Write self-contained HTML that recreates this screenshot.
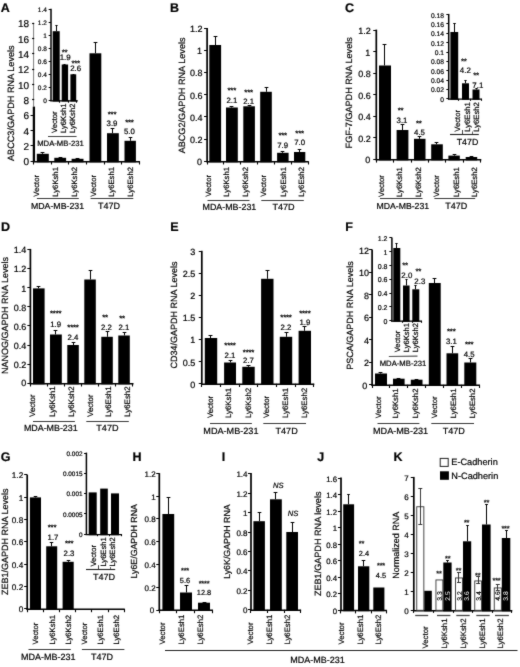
<!DOCTYPE html>
<html lang="en">
<head>
<meta charset="utf-8">
<title>Figure</title>
<style>
html,body{margin:0;padding:0;background:#fff;}
body{width:520px;height:667px;overflow:hidden;}
svg{display:block;}
svg text{font-family:"Liberation Sans", sans-serif;text-rendering:geometricPrecision;stroke:#000;stroke-width:0.2px;}
</style>
</head>
<body>
<svg width="520" height="667" viewBox="0 0 520 667">
<defs><filter id="soft" x="0" y="0" width="520" height="667" filterUnits="userSpaceOnUse" color-interpolation-filters="sRGB"><feConvolveMatrix order="3" kernelMatrix="0.02 0.07 0.02 0.07 0.64 0.07 0.02 0.07 0.02" edgeMode="duplicate" preserveAlpha="true"/></filter></defs>
<rect x="0" y="0" width="520" height="667" fill="#fff"/>
<g filter="url(#soft)">
<rect x="0" y="0" width="520" height="667" fill="#fff"/>
<text x="0.8" y="11.88" font-size="12.5" font-weight="bold">A</text>
<line x1="33.6" y1="22.8" x2="33.6" y2="161.9" stroke="#000" stroke-width="1.7"/>
<line x1="30.55" y1="161.5" x2="33.6" y2="161.5" stroke="#000" stroke-width="1"/>
<text x="29.15" y="165.48" font-size="10" text-anchor="end">0</text>
<line x1="30.55" y1="145.5" x2="33.6" y2="145.5" stroke="#000" stroke-width="1"/>
<text x="29.15" y="150.14" font-size="10" text-anchor="end">2</text>
<line x1="30.55" y1="130.5" x2="33.6" y2="130.5" stroke="#000" stroke-width="1"/>
<text x="29.15" y="134.8" font-size="10" text-anchor="end">4</text>
<line x1="30.55" y1="115.5" x2="33.6" y2="115.5" stroke="#000" stroke-width="1"/>
<text x="29.15" y="119.46" font-size="10" text-anchor="end">6</text>
<line x1="30.55" y1="99.5" x2="33.6" y2="99.5" stroke="#000" stroke-width="1"/>
<text x="29.15" y="104.12" font-size="10" text-anchor="end">8</text>
<line x1="30.55" y1="84.5" x2="33.6" y2="84.5" stroke="#000" stroke-width="1"/>
<text x="29.15" y="88.78" font-size="10" text-anchor="end">10</text>
<line x1="30.55" y1="69.5" x2="33.6" y2="69.5" stroke="#000" stroke-width="1"/>
<text x="29.15" y="73.44" font-size="10" text-anchor="end">12</text>
<line x1="30.55" y1="53.5" x2="33.6" y2="53.5" stroke="#000" stroke-width="1"/>
<text x="29.15" y="58.1" font-size="10" text-anchor="end">14</text>
<line x1="30.55" y1="38.5" x2="33.6" y2="38.5" stroke="#000" stroke-width="1"/>
<text x="29.15" y="42.76" font-size="10" text-anchor="end">16</text>
<line x1="30.55" y1="23.5" x2="33.6" y2="23.5" stroke="#000" stroke-width="1"/>
<text x="29.15" y="27.42" font-size="10" text-anchor="end">18</text>
<line x1="32.8" y1="161.65" x2="140" y2="161.65" stroke="#000" stroke-width="1.5"/>
<line x1="33.5" y1="161.3" x2="33.5" y2="164.5" stroke="#000" stroke-width="1.1"/>
<line x1="51.5" y1="161.3" x2="51.5" y2="164.5" stroke="#000" stroke-width="1.1"/>
<line x1="68.5" y1="161.3" x2="68.5" y2="164.5" stroke="#000" stroke-width="1.1"/>
<line x1="86.5" y1="161.3" x2="86.5" y2="164.5" stroke="#000" stroke-width="1.1"/>
<line x1="104.5" y1="161.3" x2="104.5" y2="164.5" stroke="#000" stroke-width="1.1"/>
<line x1="121.5" y1="161.3" x2="121.5" y2="164.5" stroke="#000" stroke-width="1.1"/>
<line x1="139.5" y1="161.3" x2="139.5" y2="164.5" stroke="#000" stroke-width="1.1"/>
<line x1="42.5" y1="152.5" x2="42.5" y2="153.8" stroke="#000" stroke-width="1"/>
<line x1="40.58" y1="152.5" x2="44.42" y2="152.5" stroke="#000" stroke-width="1"/>
<rect x="36.8" y="153.8" width="12" height="8.5" fill="#000"/>
<line x1="60.5" y1="157.5" x2="60.5" y2="157.8" stroke="#000" stroke-width="1"/>
<line x1="58.61" y1="157.5" x2="62.39" y2="157.5" stroke="#000" stroke-width="1"/>
<rect x="54.3" y="157.8" width="11.8" height="4.5" fill="#000"/>
<line x1="77.5" y1="158.5" x2="77.5" y2="158.8" stroke="#000" stroke-width="1"/>
<line x1="75.6" y1="158.5" x2="79.4" y2="158.5" stroke="#000" stroke-width="1"/>
<rect x="71.6" y="158.8" width="11.9" height="3.5" fill="#000"/>
<line x1="95.5" y1="42.5" x2="95.5" y2="53.3" stroke="#000" stroke-width="1"/>
<line x1="93.61" y1="42.5" x2="97.39" y2="42.5" stroke="#000" stroke-width="1"/>
<rect x="89.5" y="53.3" width="11.8" height="109" fill="#000"/>
<line x1="112.5" y1="128.5" x2="112.5" y2="133.2" stroke="#000" stroke-width="1"/>
<line x1="110.61" y1="128.5" x2="114.39" y2="128.5" stroke="#000" stroke-width="1"/>
<rect x="107" y="133.2" width="11.8" height="29.1" fill="#000"/>
<line x1="130.5" y1="137.5" x2="130.5" y2="140.8" stroke="#000" stroke-width="1"/>
<line x1="128.68" y1="137.5" x2="132.32" y2="137.5" stroke="#000" stroke-width="1"/>
<rect x="124.5" y="140.8" width="11.4" height="21.5" fill="#000"/>
<text x="39.26" y="196.7" font-size="7.7" transform="rotate(-90 39.26 196.7)">Vector</text>
<text x="57.56" y="196.7" font-size="7.7" transform="rotate(-90 57.56 196.7)">Ly6Ksh1</text>
<text x="76.86" y="196.7" font-size="7.7" transform="rotate(-90 76.86 196.7)">Ly6Ksh2</text>
<text x="95.66" y="196.7" font-size="7.7" transform="rotate(-90 95.66 196.7)">Vector</text>
<text x="114.36" y="196.7" font-size="7.7" transform="rotate(-90 114.36 196.7)">Ly6Esh1</text>
<text x="133.16" y="196.7" font-size="7.7" transform="rotate(-90 133.16 196.7)">Ly6Esh2</text>
<text x="14.27" y="103.2" font-size="9.14" text-anchor="middle" transform="rotate(-90 14.27 103.2)">ABCC3/GAPDH RNA Levels</text>
<line x1="36.9" y1="198.5" x2="78.8" y2="198.5" stroke="#222" stroke-width="0.9"/>
<line x1="90.6" y1="198.5" x2="133.3" y2="198.5" stroke="#222" stroke-width="0.9"/>
<text x="57.5" y="208.83" font-size="8.75" text-anchor="middle">MDA-MB-231</text>
<text x="109" y="208.92" font-size="9" text-anchor="middle">T47D</text>
<text x="112" y="116.7" font-size="7.8" text-anchor="middle" letter-spacing="-0.2">***</text>
<text x="112" y="126.19" font-size="7.8" text-anchor="middle">3.9</text>
<text x="129.4" y="124.7" font-size="7.8" text-anchor="middle" letter-spacing="-0.2">***</text>
<text x="129.4" y="134.39" font-size="7.8" text-anchor="middle">5.0</text>
<rect x="30.2" y="21.5" width="4.7" height="85.2" fill="#fff"/>
<line x1="33.5" y1="22.8" x2="33.5" y2="106.7" stroke="#888" stroke-width="1"/>
<line x1="32.1" y1="99.5" x2="34.2" y2="99.5" stroke="#000" stroke-width="1.2"/>
<line x1="32.1" y1="84.5" x2="34.2" y2="84.5" stroke="#000" stroke-width="1.2"/>
<line x1="32.1" y1="69.5" x2="34.2" y2="69.5" stroke="#000" stroke-width="1.2"/>
<line x1="32.1" y1="53.5" x2="34.2" y2="53.5" stroke="#000" stroke-width="1.2"/>
<line x1="32.1" y1="38.5" x2="34.2" y2="38.5" stroke="#000" stroke-width="1.2"/>
<line x1="32.1" y1="23.5" x2="34.2" y2="23.5" stroke="#000" stroke-width="1.2"/>
<line x1="34.1" y1="106.7" x2="34.1" y2="161.3" stroke="#000" stroke-width="1.9"/>
<line x1="51" y1="8.8" x2="51" y2="101.1" stroke="#000" stroke-width="1.5"/>
<line x1="48.65" y1="100.5" x2="51" y2="100.5" stroke="#000" stroke-width="1"/>
<text x="46.85" y="103.43" font-size="6.5" text-anchor="end">0</text>
<line x1="48.65" y1="87.5" x2="51" y2="87.5" stroke="#000" stroke-width="1"/>
<text x="46.85" y="90.43" font-size="6.5" text-anchor="end">0.2</text>
<line x1="48.65" y1="74.5" x2="51" y2="74.5" stroke="#000" stroke-width="1"/>
<text x="46.85" y="77.43" font-size="6.5" text-anchor="end">0.4</text>
<line x1="48.65" y1="61.5" x2="51" y2="61.5" stroke="#000" stroke-width="1"/>
<text x="46.85" y="64.43" font-size="6.5" text-anchor="end">0.6</text>
<line x1="48.65" y1="48.5" x2="51" y2="48.5" stroke="#000" stroke-width="1"/>
<text x="46.85" y="51.43" font-size="6.5" text-anchor="end">0.8</text>
<line x1="48.65" y1="35.5" x2="51" y2="35.5" stroke="#000" stroke-width="1"/>
<text x="46.85" y="38.43" font-size="6.5" text-anchor="end">1</text>
<line x1="48.65" y1="22.5" x2="51" y2="22.5" stroke="#000" stroke-width="1"/>
<text x="46.85" y="25.43" font-size="6.5" text-anchor="end">1.2</text>
<line x1="48.65" y1="9.5" x2="51" y2="9.5" stroke="#000" stroke-width="1"/>
<text x="46.85" y="12.43" font-size="6.5" text-anchor="end">1.4</text>
<line x1="50.2" y1="100.85" x2="77.8" y2="100.85" stroke="#000" stroke-width="1.3"/>
<line x1="59.5" y1="100.5" x2="59.5" y2="102.7" stroke="#000" stroke-width="1.1"/>
<line x1="68.5" y1="100.5" x2="68.5" y2="102.7" stroke="#000" stroke-width="1.1"/>
<line x1="76.5" y1="100.5" x2="76.5" y2="102.7" stroke="#000" stroke-width="1.1"/>
<line x1="56.5" y1="25.5" x2="56.5" y2="31.2" stroke="#000" stroke-width="1"/>
<line x1="55.38" y1="25.5" x2="57.62" y2="25.5" stroke="#000" stroke-width="1"/>
<rect x="52.7" y="31.2" width="7" height="70.3" fill="#000"/>
<line x1="64.5" y1="64.5" x2="64.5" y2="64.5" stroke="#000" stroke-width="1"/>
<line x1="63.48" y1="64.5" x2="65.52" y2="64.5" stroke="#000" stroke-width="1"/>
<rect x="61.7" y="64.5" width="6.4" height="37" fill="#000"/>
<line x1="73.5" y1="74.5" x2="73.5" y2="74.3" stroke="#000" stroke-width="1"/>
<line x1="72.57" y1="74.5" x2="74.43" y2="74.5" stroke="#000" stroke-width="1"/>
<rect x="70.4" y="74.3" width="5.8" height="27.2" fill="#000"/>
<text x="64.6" y="55.15" font-size="7.9" text-anchor="middle" letter-spacing="-0.2">**</text>
<text x="65.2" y="60.13" font-size="7.9" text-anchor="middle">1.9</text>
<text x="75.7" y="65.55" font-size="7.9" text-anchor="middle" letter-spacing="-0.2">***</text>
<text x="75.7" y="70.83" font-size="7.9" text-anchor="middle">2.6</text>
<text x="57.42" y="132.9" font-size="7.6" transform="rotate(-90 57.42 132.9)">Vector</text>
<text x="66.22" y="132.9" font-size="7.6" transform="rotate(-90 66.22 132.9)">Ly6Ksh1</text>
<text x="75.02" y="132.9" font-size="7.6" transform="rotate(-90 75.02 132.9)">Ly6Ksh2</text>
<line x1="48" y1="136.5" x2="76.6" y2="136.5" stroke="#444" stroke-width="1"/>
<text x="60.5" y="145.96" font-size="7.7" text-anchor="middle">MDA-MB-231</text>
<text x="170" y="11.77" font-size="12.5" font-weight="bold">B</text>
<line x1="207.1" y1="27.9" x2="207.1" y2="161.9" stroke="#000" stroke-width="1.7"/>
<line x1="204.05" y1="161.5" x2="207.1" y2="161.5" stroke="#000" stroke-width="1"/>
<text x="202" y="165.12" font-size="9" text-anchor="end">0</text>
<line x1="204.05" y1="139.5" x2="207.1" y2="139.5" stroke="#000" stroke-width="1"/>
<text x="202.6" y="142.96" font-size="9" text-anchor="end">0.2</text>
<line x1="204.05" y1="116.5" x2="207.1" y2="116.5" stroke="#000" stroke-width="1"/>
<text x="202.6" y="120.8" font-size="9" text-anchor="end">0.4</text>
<line x1="204.05" y1="94.5" x2="207.1" y2="94.5" stroke="#000" stroke-width="1"/>
<text x="202.6" y="98.64" font-size="9" text-anchor="end">0.6</text>
<line x1="204.05" y1="72.5" x2="207.1" y2="72.5" stroke="#000" stroke-width="1"/>
<text x="202.6" y="76.48" font-size="9" text-anchor="end">0.8</text>
<line x1="204.05" y1="50.5" x2="207.1" y2="50.5" stroke="#000" stroke-width="1"/>
<text x="202" y="54.32" font-size="9" text-anchor="end">1</text>
<line x1="204.05" y1="28.5" x2="207.1" y2="28.5" stroke="#000" stroke-width="1"/>
<text x="202.6" y="32.16" font-size="9" text-anchor="end">1.2</text>
<line x1="206.3" y1="161.65" x2="308.5" y2="161.65" stroke="#000" stroke-width="1.5"/>
<line x1="207.5" y1="161.3" x2="207.5" y2="164.5" stroke="#000" stroke-width="1.1"/>
<line x1="223.5" y1="161.3" x2="223.5" y2="164.5" stroke="#000" stroke-width="1.1"/>
<line x1="240.5" y1="161.3" x2="240.5" y2="164.5" stroke="#000" stroke-width="1.1"/>
<line x1="257.5" y1="161.3" x2="257.5" y2="164.5" stroke="#000" stroke-width="1.1"/>
<line x1="274.5" y1="161.3" x2="274.5" y2="164.5" stroke="#000" stroke-width="1.1"/>
<line x1="291.5" y1="161.3" x2="291.5" y2="164.5" stroke="#000" stroke-width="1.1"/>
<line x1="308.5" y1="161.3" x2="308.5" y2="164.5" stroke="#000" stroke-width="1.1"/>
<line x1="215.5" y1="36.5" x2="215.5" y2="45" stroke="#000" stroke-width="1"/>
<line x1="213.61" y1="36.5" x2="217.39" y2="36.5" stroke="#000" stroke-width="1"/>
<rect x="209.3" y="45" width="11.8" height="117.3" fill="#000"/>
<line x1="231.5" y1="106.5" x2="231.5" y2="107.5" stroke="#000" stroke-width="1"/>
<line x1="229.61" y1="106.5" x2="233.39" y2="106.5" stroke="#000" stroke-width="1"/>
<rect x="226" y="107.5" width="11.8" height="54.8" fill="#000"/>
<line x1="249.5" y1="105.5" x2="249.5" y2="106.3" stroke="#000" stroke-width="1"/>
<line x1="247.64" y1="105.5" x2="251.36" y2="105.5" stroke="#000" stroke-width="1"/>
<rect x="243.3" y="106.3" width="11.6" height="56" fill="#000"/>
<line x1="266.5" y1="87.5" x2="266.5" y2="91.8" stroke="#000" stroke-width="1"/>
<line x1="264.64" y1="87.5" x2="268.36" y2="87.5" stroke="#000" stroke-width="1"/>
<rect x="260.2" y="91.8" width="11.6" height="70.5" fill="#000"/>
<line x1="282.5" y1="151.5" x2="282.5" y2="152.8" stroke="#000" stroke-width="1"/>
<line x1="280.66" y1="151.5" x2="284.34" y2="151.5" stroke="#000" stroke-width="1"/>
<rect x="277.1" y="152.8" width="11.5" height="9.5" fill="#000"/>
<line x1="299.5" y1="149.5" x2="299.5" y2="152" stroke="#000" stroke-width="1"/>
<line x1="297.69" y1="149.5" x2="301.31" y2="149.5" stroke="#000" stroke-width="1"/>
<rect x="294" y="152" width="11.3" height="10.3" fill="#000"/>
<text x="210.56" y="196.7" font-size="7.7" transform="rotate(-90 210.56 196.7)">Vector</text>
<text x="229.16" y="196.7" font-size="7.7" transform="rotate(-90 229.16 196.7)">Ly6Ksh1</text>
<text x="248.46" y="196.7" font-size="7.7" transform="rotate(-90 248.46 196.7)">Ly6Ksh2</text>
<text x="266.36" y="196.7" font-size="7.7" transform="rotate(-90 266.36 196.7)">Vector</text>
<text x="285.76" y="196.7" font-size="7.7" transform="rotate(-90 285.76 196.7)">Ly6Esh1</text>
<text x="304.06" y="196.7" font-size="7.7" transform="rotate(-90 304.06 196.7)">Ly6Esh2</text>
<text x="185.16" y="95.4" font-size="9.12" text-anchor="middle" transform="rotate(-90 185.16 95.4)">ABCG2/GAPDH RNA Levels</text>
<line x1="207.5" y1="200.5" x2="249.5" y2="200.5" stroke="#222" stroke-width="0.9"/>
<line x1="261.3" y1="200.5" x2="303.8" y2="200.5" stroke="#222" stroke-width="0.9"/>
<text x="229.4" y="209.79" font-size="8.9" text-anchor="middle">MDA-MB-231</text>
<text x="283.5" y="209.86" font-size="9.1" text-anchor="middle">T47D</text>
<text x="231.8" y="92.9" font-size="7.8" text-anchor="middle" letter-spacing="-0.2">***</text>
<text x="231.8" y="102.69" font-size="7.8" text-anchor="middle">2.1</text>
<text x="248.6" y="94.5" font-size="7.8" text-anchor="middle" letter-spacing="-0.2">***</text>
<text x="248.6" y="104.09" font-size="7.8" text-anchor="middle">2.1</text>
<text x="282.7" y="137.7" font-size="7.8" text-anchor="middle" letter-spacing="-0.2">***</text>
<text x="282.7" y="148.19" font-size="7.8" text-anchor="middle">7.9</text>
<text x="299.6" y="135.9" font-size="7.8" text-anchor="middle" letter-spacing="-0.2">***</text>
<text x="299.6" y="145.29" font-size="7.8" text-anchor="middle">7.0</text>
<text x="345" y="12.37" font-size="12.5" font-weight="bold">C</text>
<line x1="376.3" y1="29.6" x2="376.3" y2="160" stroke="#000" stroke-width="1.7"/>
<line x1="373.25" y1="159.5" x2="376.3" y2="159.5" stroke="#000" stroke-width="1"/>
<text x="370.25" y="163.22" font-size="9" text-anchor="end">0</text>
<line x1="373.25" y1="137.5" x2="376.3" y2="137.5" stroke="#000" stroke-width="1"/>
<text x="370.65" y="141.68" font-size="9" text-anchor="end">0.2</text>
<line x1="373.25" y1="116.5" x2="376.3" y2="116.5" stroke="#000" stroke-width="1"/>
<text x="370.65" y="120.14" font-size="9" text-anchor="end">0.4</text>
<line x1="373.25" y1="94.5" x2="376.3" y2="94.5" stroke="#000" stroke-width="1"/>
<text x="370.65" y="98.6" font-size="9" text-anchor="end">0.6</text>
<line x1="373.25" y1="73.5" x2="376.3" y2="73.5" stroke="#000" stroke-width="1"/>
<text x="370.65" y="77.06" font-size="9" text-anchor="end">0.8</text>
<line x1="373.25" y1="51.5" x2="376.3" y2="51.5" stroke="#000" stroke-width="1"/>
<text x="370.25" y="55.52" font-size="9" text-anchor="end">1</text>
<line x1="373.25" y1="30.5" x2="376.3" y2="30.5" stroke="#000" stroke-width="1"/>
<text x="370.65" y="33.98" font-size="9" text-anchor="end">1.2</text>
<line x1="375.5" y1="159.75" x2="481.3" y2="159.75" stroke="#000" stroke-width="1.5"/>
<line x1="376.5" y1="159.4" x2="376.5" y2="162.6" stroke="#000" stroke-width="1.1"/>
<line x1="393.5" y1="159.4" x2="393.5" y2="162.6" stroke="#000" stroke-width="1.1"/>
<line x1="411.5" y1="159.4" x2="411.5" y2="162.6" stroke="#000" stroke-width="1.1"/>
<line x1="428.5" y1="159.4" x2="428.5" y2="162.6" stroke="#000" stroke-width="1.1"/>
<line x1="445.5" y1="159.4" x2="445.5" y2="162.6" stroke="#000" stroke-width="1.1"/>
<line x1="463.5" y1="159.4" x2="463.5" y2="162.6" stroke="#000" stroke-width="1.1"/>
<line x1="480.5" y1="159.4" x2="480.5" y2="162.6" stroke="#000" stroke-width="1.1"/>
<line x1="384.5" y1="44.5" x2="384.5" y2="65.5" stroke="#000" stroke-width="1"/>
<line x1="382.58" y1="44.5" x2="386.42" y2="44.5" stroke="#000" stroke-width="1"/>
<rect x="379" y="65.5" width="12" height="94.9" fill="#000"/>
<line x1="402.5" y1="124.5" x2="402.5" y2="130" stroke="#000" stroke-width="1"/>
<line x1="400.61" y1="124.5" x2="404.39" y2="124.5" stroke="#000" stroke-width="1"/>
<rect x="396.6" y="130" width="11.8" height="30.4" fill="#000"/>
<line x1="419.5" y1="136.5" x2="419.5" y2="138.8" stroke="#000" stroke-width="1"/>
<line x1="417.66" y1="136.5" x2="421.34" y2="136.5" stroke="#000" stroke-width="1"/>
<rect x="414" y="138.8" width="11.5" height="21.6" fill="#000"/>
<line x1="436.5" y1="142.5" x2="436.5" y2="144.3" stroke="#000" stroke-width="1"/>
<line x1="434.64" y1="142.5" x2="438.36" y2="142.5" stroke="#000" stroke-width="1"/>
<rect x="431.2" y="144.3" width="11.6" height="16.1" fill="#000"/>
<line x1="454.5" y1="154.5" x2="454.5" y2="155.6" stroke="#000" stroke-width="1"/>
<line x1="452.68" y1="154.5" x2="456.32" y2="154.5" stroke="#000" stroke-width="1"/>
<rect x="448.4" y="155.6" width="11.4" height="4.8" fill="#000"/>
<line x1="471.5" y1="156.5" x2="471.5" y2="157" stroke="#000" stroke-width="1"/>
<line x1="469.66" y1="156.5" x2="473.34" y2="156.5" stroke="#000" stroke-width="1"/>
<rect x="465.7" y="157" width="11.5" height="3.4" fill="#000"/>
<text x="383.86" y="196.9" font-size="7.7" transform="rotate(-90 383.86 196.9)">Vector</text>
<text x="402.46" y="196.9" font-size="7.7" transform="rotate(-90 402.46 196.9)">Ly6Ksh1</text>
<text x="420.76" y="196.9" font-size="7.7" transform="rotate(-90 420.76 196.9)">Ly6Ksh2</text>
<text x="439.26" y="196.9" font-size="7.7" transform="rotate(-90 439.26 196.9)">Vector</text>
<text x="458.66" y="196.9" font-size="7.7" transform="rotate(-90 458.66 196.9)">Ly6Esh1</text>
<text x="477.06" y="196.9" font-size="7.7" transform="rotate(-90 477.06 196.9)">Ly6Esh2</text>
<text x="351.76" y="92.8" font-size="9.1" text-anchor="middle" transform="rotate(-90 351.76 92.8)">FGF-7/GAPDH RNA Levels</text>
<line x1="380" y1="198.5" x2="422.5" y2="198.5" stroke="#222" stroke-width="0.9"/>
<line x1="434.4" y1="198.5" x2="475.2" y2="198.5" stroke="#222" stroke-width="0.9"/>
<text x="402.8" y="209.11" font-size="8.7" text-anchor="middle">MDA-MB-231</text>
<text x="456.2" y="209.22" font-size="9" text-anchor="middle">T47D</text>
<text x="400.6" y="112.5" font-size="7.8" text-anchor="middle" letter-spacing="-0.2">**</text>
<text x="402" y="122.59" font-size="7.8" text-anchor="middle">3.1</text>
<text x="418.8" y="125.7" font-size="7.8" text-anchor="middle" letter-spacing="-0.2">**</text>
<text x="419.5" y="135.09" font-size="7.8" text-anchor="middle">4.5</text>
<line x1="448.7" y1="13.9" x2="448.7" y2="99.4" stroke="#000" stroke-width="1.5"/>
<line x1="446.35" y1="98.5" x2="448.7" y2="98.5" stroke="#000" stroke-width="1"/>
<text x="444.05" y="101.8" font-size="6.7" text-anchor="end">0</text>
<line x1="446.35" y1="89.5" x2="448.7" y2="89.5" stroke="#000" stroke-width="1"/>
<text x="444.05" y="92.44" font-size="6.7" text-anchor="end">0.02</text>
<line x1="446.35" y1="80.5" x2="448.7" y2="80.5" stroke="#000" stroke-width="1"/>
<text x="444.05" y="83.08" font-size="6.7" text-anchor="end">0.04</text>
<line x1="446.35" y1="70.5" x2="448.7" y2="70.5" stroke="#000" stroke-width="1"/>
<text x="444.05" y="73.72" font-size="6.7" text-anchor="end">0.06</text>
<line x1="446.35" y1="61.5" x2="448.7" y2="61.5" stroke="#000" stroke-width="1"/>
<text x="444.05" y="64.36" font-size="6.7" text-anchor="end">0.08</text>
<line x1="446.35" y1="52.5" x2="448.7" y2="52.5" stroke="#000" stroke-width="1"/>
<text x="444.05" y="55" font-size="6.7" text-anchor="end">0.1</text>
<line x1="446.35" y1="42.5" x2="448.7" y2="42.5" stroke="#000" stroke-width="1"/>
<text x="444.05" y="45.64" font-size="6.7" text-anchor="end">0.12</text>
<line x1="446.35" y1="33.5" x2="448.7" y2="33.5" stroke="#000" stroke-width="1"/>
<text x="444.05" y="36.28" font-size="6.7" text-anchor="end">0.14</text>
<line x1="446.35" y1="23.5" x2="448.7" y2="23.5" stroke="#000" stroke-width="1"/>
<text x="444.05" y="26.92" font-size="6.7" text-anchor="end">0.16</text>
<line x1="446.35" y1="14.5" x2="448.7" y2="14.5" stroke="#000" stroke-width="1"/>
<text x="444.05" y="17.56" font-size="6.7" text-anchor="end">0.18</text>
<line x1="447.9" y1="99.15" x2="481.9" y2="99.15" stroke="#000" stroke-width="1.3"/>
<line x1="458.5" y1="98.8" x2="458.5" y2="100.8" stroke="#000" stroke-width="1.1"/>
<line x1="470.5" y1="98.8" x2="470.5" y2="100.8" stroke="#000" stroke-width="1.1"/>
<line x1="481.5" y1="98.8" x2="481.5" y2="100.8" stroke="#000" stroke-width="1.1"/>
<line x1="454.5" y1="23.5" x2="454.5" y2="32" stroke="#000" stroke-width="1"/>
<line x1="453.25" y1="23.5" x2="455.75" y2="23.5" stroke="#000" stroke-width="1"/>
<rect x="450.4" y="32" width="7.8" height="67.8" fill="#000"/>
<line x1="465.5" y1="80.5" x2="465.5" y2="83.3" stroke="#000" stroke-width="1"/>
<line x1="464.38" y1="80.5" x2="466.62" y2="80.5" stroke="#000" stroke-width="1"/>
<rect x="462" y="83.3" width="7" height="16.5" fill="#000"/>
<line x1="476.5" y1="88.5" x2="476.5" y2="89.5" stroke="#000" stroke-width="1"/>
<line x1="475.38" y1="88.5" x2="477.62" y2="88.5" stroke="#000" stroke-width="1"/>
<rect x="472.5" y="89.5" width="7" height="10.3" fill="#000"/>
<text x="463.8" y="63.55" font-size="7.9" text-anchor="middle" letter-spacing="-0.2">**</text>
<text x="465.3" y="73.43" font-size="7.9" text-anchor="middle">4.2</text>
<text x="476" y="77.95" font-size="7.9" text-anchor="middle" letter-spacing="-0.2">**</text>
<text x="477.8" y="87.63" font-size="7.9" text-anchor="middle">7.1</text>
<text x="459.96" y="131.8" font-size="7.7" transform="rotate(-90 459.96 131.8)">Vector</text>
<text x="469.76" y="131.8" font-size="7.7" transform="rotate(-90 469.76 131.8)">Ly6Esh1</text>
<text x="478.86" y="131.8" font-size="7.7" transform="rotate(-90 478.86 131.8)">Ly6Esh2</text>
<line x1="462.5" y1="130" x2="462.5" y2="134.2" stroke="#333" stroke-width="0.9"/>
<line x1="472.5" y1="131.5" x2="472.5" y2="134.2" stroke="#555" stroke-width="0.9"/>
<line x1="450" y1="134.5" x2="478.8" y2="134.5" stroke="#222" stroke-width="1.1"/>
<text x="467.5" y="144.95" font-size="8.8" text-anchor="middle">T47D</text>
<text x="0.9" y="231.27" font-size="12.5" font-weight="bold">D</text>
<line x1="30.4" y1="248.9" x2="30.4" y2="383.9" stroke="#000" stroke-width="1.7"/>
<line x1="27.35" y1="383.5" x2="30.4" y2="383.5" stroke="#000" stroke-width="1"/>
<text x="26.15" y="386.12" font-size="9" text-anchor="end">0</text>
<line x1="27.35" y1="364.5" x2="30.4" y2="364.5" stroke="#000" stroke-width="1"/>
<text x="26.15" y="368" font-size="9" text-anchor="end">0.2</text>
<line x1="27.35" y1="345.5" x2="30.4" y2="345.5" stroke="#000" stroke-width="1"/>
<text x="26.15" y="348.88" font-size="9" text-anchor="end">0.4</text>
<line x1="27.35" y1="325.5" x2="30.4" y2="325.5" stroke="#000" stroke-width="1"/>
<text x="26.15" y="329.76" font-size="9" text-anchor="end">0.6</text>
<line x1="27.35" y1="306.5" x2="30.4" y2="306.5" stroke="#000" stroke-width="1"/>
<text x="26.15" y="310.64" font-size="9" text-anchor="end">0.8</text>
<line x1="27.35" y1="287.5" x2="30.4" y2="287.5" stroke="#000" stroke-width="1"/>
<text x="26.15" y="291.52" font-size="9" text-anchor="end">1</text>
<line x1="27.35" y1="268.5" x2="30.4" y2="268.5" stroke="#000" stroke-width="1"/>
<text x="26.15" y="272.4" font-size="9" text-anchor="end">1.2</text>
<line x1="27.35" y1="249.5" x2="30.4" y2="249.5" stroke="#000" stroke-width="1"/>
<text x="26.15" y="253.28" font-size="9" text-anchor="end">1.4</text>
<line x1="29.6" y1="383.65" x2="133.5" y2="383.65" stroke="#000" stroke-width="1.5"/>
<line x1="30.5" y1="383.3" x2="30.5" y2="386.5" stroke="#000" stroke-width="1.1"/>
<line x1="47.5" y1="383.3" x2="47.5" y2="386.5" stroke="#000" stroke-width="1.1"/>
<line x1="64.5" y1="383.3" x2="64.5" y2="386.5" stroke="#000" stroke-width="1.1"/>
<line x1="81.5" y1="383.3" x2="81.5" y2="386.5" stroke="#000" stroke-width="1.1"/>
<line x1="98.5" y1="383.3" x2="98.5" y2="386.5" stroke="#000" stroke-width="1.1"/>
<line x1="115.5" y1="383.3" x2="115.5" y2="386.5" stroke="#000" stroke-width="1.1"/>
<line x1="132.5" y1="383.3" x2="132.5" y2="386.5" stroke="#000" stroke-width="1.1"/>
<line x1="38.5" y1="286.5" x2="38.5" y2="288.4" stroke="#000" stroke-width="1"/>
<line x1="36.64" y1="286.5" x2="40.36" y2="286.5" stroke="#000" stroke-width="1"/>
<rect x="33" y="288.4" width="11.6" height="95.9" fill="#000"/>
<line x1="55.5" y1="330.5" x2="55.5" y2="334.5" stroke="#000" stroke-width="1"/>
<line x1="53.61" y1="330.5" x2="57.39" y2="330.5" stroke="#000" stroke-width="1"/>
<rect x="50" y="334.5" width="11.8" height="49.8" fill="#000"/>
<line x1="73.5" y1="342.5" x2="73.5" y2="345" stroke="#000" stroke-width="1"/>
<line x1="71.66" y1="342.5" x2="75.34" y2="342.5" stroke="#000" stroke-width="1"/>
<rect x="67.3" y="345" width="11.5" height="39.3" fill="#000"/>
<line x1="90.5" y1="270.5" x2="90.5" y2="279.5" stroke="#000" stroke-width="1"/>
<line x1="88.66" y1="270.5" x2="92.34" y2="270.5" stroke="#000" stroke-width="1"/>
<rect x="84.3" y="279.5" width="11.5" height="104.8" fill="#000"/>
<line x1="107.5" y1="331.5" x2="107.5" y2="336.8" stroke="#000" stroke-width="1"/>
<line x1="105.66" y1="331.5" x2="109.34" y2="331.5" stroke="#000" stroke-width="1"/>
<rect x="101.3" y="336.8" width="11.5" height="47.5" fill="#000"/>
<line x1="124.5" y1="332.5" x2="124.5" y2="335.5" stroke="#000" stroke-width="1"/>
<line x1="122.66" y1="332.5" x2="126.34" y2="332.5" stroke="#000" stroke-width="1"/>
<rect x="118.3" y="335.5" width="11.5" height="48.8" fill="#000"/>
<text x="35.25" y="416.9" font-size="7.95" transform="rotate(-90 35.25 416.9)">Vector</text>
<text x="55.25" y="416.9" font-size="7.95" transform="rotate(-90 55.25 416.9)">Ly6Ksh1</text>
<text x="73.55" y="416.9" font-size="7.95" transform="rotate(-90 73.55 416.9)">Ly6Ksh2</text>
<text x="92.55" y="416.9" font-size="7.95" transform="rotate(-90 92.55 416.9)">Vector</text>
<text x="110.75" y="416.9" font-size="7.95" transform="rotate(-90 110.75 416.9)">Ly6Esh1</text>
<text x="129.85" y="416.9" font-size="7.95" transform="rotate(-90 129.85 416.9)">Ly6Esh2</text>
<text x="8.02" y="315.6" font-size="9" text-anchor="middle" transform="rotate(-90 8.02 315.6)">NANOG/GAPDH RNA Levels</text>
<line x1="33" y1="421.5" x2="74.9" y2="421.5" stroke="#222" stroke-width="0.9"/>
<line x1="86.3" y1="421.5" x2="128.8" y2="421.5" stroke="#222" stroke-width="0.9"/>
<text x="50.8" y="430.99" font-size="8.9" text-anchor="middle">MDA-MB-231</text>
<text x="107.4" y="431.06" font-size="9.1" text-anchor="middle">T47D</text>
<text x="55.7" y="316.4" font-size="7.8" text-anchor="middle" letter-spacing="-0.2">****</text>
<text x="55.7" y="327.09" font-size="7.8" text-anchor="middle">1.9</text>
<text x="73" y="330.2" font-size="7.8" text-anchor="middle" letter-spacing="-0.2">****</text>
<text x="73" y="340.29" font-size="7.8" text-anchor="middle">2.4</text>
<text x="105" y="320.2" font-size="7.8" text-anchor="middle" letter-spacing="-0.2">**</text>
<text x="106.3" y="329.79" font-size="7.8" text-anchor="middle">2.2</text>
<text x="122" y="320.9" font-size="7.8" text-anchor="middle" letter-spacing="-0.2">**</text>
<text x="123.8" y="330.29" font-size="7.8" text-anchor="middle">2.1</text>
<text x="170.2" y="231.27" font-size="12.5" font-weight="bold">E</text>
<line x1="201.8" y1="250.8" x2="201.8" y2="384.4" stroke="#000" stroke-width="1.7"/>
<line x1="198.75" y1="383.5" x2="201.8" y2="383.5" stroke="#000" stroke-width="1"/>
<text x="195.25" y="387.62" font-size="9" text-anchor="end">0</text>
<line x1="198.75" y1="361.5" x2="201.8" y2="361.5" stroke="#000" stroke-width="1"/>
<text x="195.25" y="365.52" font-size="9" text-anchor="end">0.5</text>
<line x1="198.75" y1="339.5" x2="201.8" y2="339.5" stroke="#000" stroke-width="1"/>
<text x="195.25" y="343.42" font-size="9" text-anchor="end">1</text>
<line x1="198.75" y1="317.5" x2="201.8" y2="317.5" stroke="#000" stroke-width="1"/>
<text x="195.25" y="321.32" font-size="9" text-anchor="end">1.5</text>
<line x1="198.75" y1="295.5" x2="201.8" y2="295.5" stroke="#000" stroke-width="1"/>
<text x="195.25" y="299.22" font-size="9" text-anchor="end">2</text>
<line x1="198.75" y1="273.5" x2="201.8" y2="273.5" stroke="#000" stroke-width="1"/>
<text x="195.25" y="277.12" font-size="9" text-anchor="end">2.5</text>
<line x1="198.75" y1="251.5" x2="201.8" y2="251.5" stroke="#000" stroke-width="1"/>
<text x="195.25" y="255.02" font-size="9" text-anchor="end">3</text>
<line x1="201" y1="384.15" x2="314.3" y2="384.15" stroke="#000" stroke-width="1.5"/>
<line x1="201.5" y1="383.8" x2="201.5" y2="387" stroke="#000" stroke-width="1.1"/>
<line x1="220.5" y1="383.8" x2="220.5" y2="387" stroke="#000" stroke-width="1.1"/>
<line x1="239.5" y1="383.8" x2="239.5" y2="387" stroke="#000" stroke-width="1.1"/>
<line x1="257.5" y1="383.8" x2="257.5" y2="387" stroke="#000" stroke-width="1.1"/>
<line x1="276.5" y1="383.8" x2="276.5" y2="387" stroke="#000" stroke-width="1.1"/>
<line x1="295.5" y1="383.8" x2="295.5" y2="387" stroke="#000" stroke-width="1.1"/>
<line x1="313.5" y1="383.8" x2="313.5" y2="387" stroke="#000" stroke-width="1.1"/>
<line x1="210.5" y1="335.5" x2="210.5" y2="338" stroke="#000" stroke-width="1"/>
<line x1="208.52" y1="335.5" x2="212.48" y2="335.5" stroke="#000" stroke-width="1"/>
<rect x="204.8" y="338" width="12.4" height="46.8" fill="#000"/>
<line x1="230.5" y1="360.5" x2="230.5" y2="362.5" stroke="#000" stroke-width="1"/>
<line x1="228.6" y1="360.5" x2="232.4" y2="360.5" stroke="#000" stroke-width="1"/>
<rect x="224.1" y="362.5" width="11.9" height="22.3" fill="#000"/>
<line x1="248.5" y1="365.5" x2="248.5" y2="366.8" stroke="#000" stroke-width="1"/>
<line x1="246.52" y1="365.5" x2="250.48" y2="365.5" stroke="#000" stroke-width="1"/>
<rect x="242.3" y="366.8" width="12.4" height="18" fill="#000"/>
<line x1="267.5" y1="270.5" x2="267.5" y2="278.8" stroke="#000" stroke-width="1"/>
<line x1="265.52" y1="270.5" x2="269.48" y2="270.5" stroke="#000" stroke-width="1"/>
<rect x="261.1" y="278.8" width="12.4" height="106" fill="#000"/>
<line x1="286.5" y1="332.5" x2="286.5" y2="336.8" stroke="#000" stroke-width="1"/>
<line x1="284.52" y1="332.5" x2="288.48" y2="332.5" stroke="#000" stroke-width="1"/>
<rect x="279.8" y="336.8" width="12.4" height="48" fill="#000"/>
<line x1="304.5" y1="326.5" x2="304.5" y2="330.8" stroke="#000" stroke-width="1"/>
<line x1="302.52" y1="326.5" x2="306.48" y2="326.5" stroke="#000" stroke-width="1"/>
<rect x="298.6" y="330.8" width="12.4" height="54" fill="#000"/>
<text x="213.31" y="418.1" font-size="7.85" transform="rotate(-90 213.31 418.1)">Vector</text>
<text x="231.41" y="418.1" font-size="7.85" transform="rotate(-90 231.41 418.1)">Ly6Ksh1</text>
<text x="250.81" y="418.1" font-size="7.85" transform="rotate(-90 250.81 418.1)">Ly6Ksh2</text>
<text x="269.31" y="418.1" font-size="7.85" transform="rotate(-90 269.31 418.1)">Vector</text>
<text x="288.41" y="418.1" font-size="7.85" transform="rotate(-90 288.41 418.1)">Ly6Esh1</text>
<text x="307.21" y="418.1" font-size="7.85" transform="rotate(-90 307.21 418.1)">Ly6Esh2</text>
<text x="177.12" y="315" font-size="9" text-anchor="middle" transform="rotate(-90 177.12 315)">CD34/GAPDH RNA Levels</text>
<line x1="210" y1="423.5" x2="251.9" y2="423.5" stroke="#222" stroke-width="0.9"/>
<line x1="263.3" y1="423.5" x2="306" y2="423.5" stroke="#222" stroke-width="0.9"/>
<text x="230.9" y="434.06" font-size="9.1" text-anchor="middle">MDA-MB-231</text>
<text x="286.6" y="434.06" font-size="9.1" text-anchor="middle">T47D</text>
<text x="230" y="348.4" font-size="7.8" text-anchor="middle" letter-spacing="-0.2">****</text>
<text x="230" y="357.79" font-size="7.8" text-anchor="middle">2.1</text>
<text x="248.5" y="354.7" font-size="7.8" text-anchor="middle" letter-spacing="-0.2">****</text>
<text x="248.5" y="363.29" font-size="7.8" text-anchor="middle">2.7</text>
<text x="286" y="320.2" font-size="7.8" text-anchor="middle" letter-spacing="-0.2">****</text>
<text x="286" y="329.59" font-size="7.8" text-anchor="middle">2.2</text>
<text x="304.8" y="316.4" font-size="7.8" text-anchor="middle" letter-spacing="-0.2">****</text>
<text x="304.8" y="325.29" font-size="7.8" text-anchor="middle">1.9</text>
<text x="345.3" y="231.17" font-size="12.5" font-weight="bold">F</text>
<line x1="372.1" y1="249.4" x2="372.1" y2="385.4" stroke="#000" stroke-width="1.7"/>
<line x1="369.05" y1="384.5" x2="372.1" y2="384.5" stroke="#000" stroke-width="1"/>
<text x="367.15" y="388.62" font-size="9" text-anchor="end">0</text>
<line x1="369.05" y1="362.5" x2="372.1" y2="362.5" stroke="#000" stroke-width="1"/>
<text x="368.95" y="366.12" font-size="9" text-anchor="end">2</text>
<line x1="369.05" y1="339.5" x2="372.1" y2="339.5" stroke="#000" stroke-width="1"/>
<text x="368.95" y="343.62" font-size="9" text-anchor="end">4</text>
<line x1="369.05" y1="317.5" x2="372.1" y2="317.5" stroke="#000" stroke-width="1"/>
<text x="368.95" y="321.12" font-size="9" text-anchor="end">6</text>
<line x1="369.05" y1="294.5" x2="372.1" y2="294.5" stroke="#000" stroke-width="1"/>
<text x="368.95" y="298.62" font-size="9" text-anchor="end">8</text>
<line x1="369.05" y1="272.5" x2="372.1" y2="272.5" stroke="#000" stroke-width="1"/>
<text x="368.95" y="276.12" font-size="9" text-anchor="end">10</text>
<line x1="369.05" y1="249.5" x2="372.1" y2="249.5" stroke="#000" stroke-width="1"/>
<text x="368.95" y="253.62" font-size="9" text-anchor="end">12</text>
<line x1="371.3" y1="385.15" x2="479.8" y2="385.15" stroke="#000" stroke-width="1.5"/>
<line x1="372.5" y1="384.8" x2="372.5" y2="388" stroke="#000" stroke-width="1.1"/>
<line x1="389.5" y1="384.8" x2="389.5" y2="388" stroke="#000" stroke-width="1.1"/>
<line x1="407.5" y1="384.8" x2="407.5" y2="388" stroke="#000" stroke-width="1.1"/>
<line x1="425.5" y1="384.8" x2="425.5" y2="388" stroke="#000" stroke-width="1.1"/>
<line x1="443.5" y1="384.8" x2="443.5" y2="388" stroke="#000" stroke-width="1.1"/>
<line x1="461.5" y1="384.8" x2="461.5" y2="388" stroke="#000" stroke-width="1.1"/>
<line x1="479.5" y1="384.8" x2="479.5" y2="388" stroke="#000" stroke-width="1.1"/>
<line x1="380.5" y1="372.5" x2="380.5" y2="373.5" stroke="#000" stroke-width="1"/>
<line x1="378.58" y1="372.5" x2="382.42" y2="372.5" stroke="#000" stroke-width="1"/>
<rect x="375" y="373.5" width="12" height="12.3" fill="#000"/>
<line x1="398.5" y1="378.5" x2="398.5" y2="378.7" stroke="#000" stroke-width="1"/>
<line x1="396.64" y1="378.5" x2="400.36" y2="378.5" stroke="#000" stroke-width="1"/>
<rect x="393" y="378.7" width="11.6" height="7.1" fill="#000"/>
<line x1="416.5" y1="379.5" x2="416.5" y2="379.7" stroke="#000" stroke-width="1"/>
<line x1="414.63" y1="379.5" x2="418.37" y2="379.5" stroke="#000" stroke-width="1"/>
<rect x="410.8" y="379.7" width="11.7" height="6.1" fill="#000"/>
<line x1="434.5" y1="278.5" x2="434.5" y2="283" stroke="#000" stroke-width="1"/>
<line x1="432.6" y1="278.5" x2="436.4" y2="278.5" stroke="#000" stroke-width="1"/>
<rect x="428.8" y="283" width="11.9" height="102.8" fill="#000"/>
<line x1="452.5" y1="346.5" x2="452.5" y2="353.3" stroke="#000" stroke-width="1"/>
<line x1="450.63" y1="346.5" x2="454.37" y2="346.5" stroke="#000" stroke-width="1"/>
<rect x="446.5" y="353.3" width="11.7" height="32.5" fill="#000"/>
<line x1="470.5" y1="358.5" x2="470.5" y2="362.5" stroke="#000" stroke-width="1"/>
<line x1="468.58" y1="358.5" x2="472.42" y2="358.5" stroke="#000" stroke-width="1"/>
<rect x="464.3" y="362.5" width="12" height="23.3" fill="#000"/>
<text x="380.76" y="418.2" font-size="7.7" transform="rotate(-90 380.76 418.2)">Vector</text>
<text x="398.36" y="418.2" font-size="7.7" transform="rotate(-90 398.36 418.2)">Ly6Ksh1</text>
<text x="417.56" y="418.2" font-size="7.7" transform="rotate(-90 417.56 418.2)">Ly6Ksh2</text>
<text x="436.86" y="418.2" font-size="7.7" transform="rotate(-90 436.86 418.2)">Vector</text>
<text x="455.56" y="418.2" font-size="7.7" transform="rotate(-90 455.56 418.2)">Ly6Esh1</text>
<text x="474.76" y="418.2" font-size="7.7" transform="rotate(-90 474.76 418.2)">Ly6Esh2</text>
<text x="352.52" y="315.4" font-size="9" text-anchor="middle" transform="rotate(-90 352.52 315.4)">PSCA/GAPDH RNA Levels</text>
<line x1="377.5" y1="423.5" x2="419.4" y2="423.5" stroke="#222" stroke-width="0.9"/>
<line x1="431.3" y1="423.5" x2="474" y2="423.5" stroke="#222" stroke-width="0.9"/>
<text x="400.6" y="433.66" font-size="9.1" text-anchor="middle">MDA-MB-231</text>
<text x="453.8" y="433.66" font-size="9.1" text-anchor="middle">T47D</text>
<text x="451.3" y="334.4" font-size="7.8" text-anchor="middle" letter-spacing="-0.2">***</text>
<text x="451.3" y="344.09" font-size="7.8" text-anchor="middle">3.1</text>
<text x="469.2" y="346.9" font-size="7.8" text-anchor="middle" letter-spacing="-0.2">***</text>
<text x="469.2" y="356.59" font-size="7.8" text-anchor="middle">4.5</text>
<line x1="391.9" y1="237.4" x2="391.9" y2="321.4" stroke="#000" stroke-width="1.5"/>
<line x1="389.35" y1="320.5" x2="391.9" y2="320.5" stroke="#000" stroke-width="1"/>
<text x="387.5" y="323.91" font-size="7" text-anchor="end">0</text>
<line x1="389.35" y1="306.5" x2="391.9" y2="306.5" stroke="#000" stroke-width="1"/>
<text x="387.5" y="310.06" font-size="7" text-anchor="end">0.2</text>
<line x1="389.35" y1="293.5" x2="391.9" y2="293.5" stroke="#000" stroke-width="1"/>
<text x="387.5" y="296.21" font-size="7" text-anchor="end">0.4</text>
<line x1="389.35" y1="279.5" x2="391.9" y2="279.5" stroke="#000" stroke-width="1"/>
<text x="387.5" y="282.36" font-size="7" text-anchor="end">0.6</text>
<line x1="389.35" y1="265.5" x2="391.9" y2="265.5" stroke="#000" stroke-width="1"/>
<text x="387.5" y="268.51" font-size="7" text-anchor="end">0.8</text>
<line x1="389.35" y1="251.5" x2="391.9" y2="251.5" stroke="#000" stroke-width="1"/>
<text x="387.5" y="254.66" font-size="7" text-anchor="end">1</text>
<line x1="389.35" y1="237.5" x2="391.9" y2="237.5" stroke="#000" stroke-width="1"/>
<text x="387.5" y="240.81" font-size="7" text-anchor="end">1.2</text>
<line x1="391.1" y1="321.15" x2="421.9" y2="321.15" stroke="#000" stroke-width="1.3"/>
<line x1="402.5" y1="320.8" x2="402.5" y2="322.8" stroke="#000" stroke-width="1.1"/>
<line x1="412.5" y1="320.8" x2="412.5" y2="322.8" stroke="#000" stroke-width="1.1"/>
<line x1="421.5" y1="320.8" x2="421.5" y2="322.8" stroke="#000" stroke-width="1.1"/>
<line x1="396.5" y1="243.5" x2="396.5" y2="248" stroke="#000" stroke-width="1"/>
<line x1="395.38" y1="243.5" x2="397.62" y2="243.5" stroke="#000" stroke-width="1"/>
<rect x="393.3" y="248" width="7" height="73.8" fill="#000"/>
<line x1="406.5" y1="279.5" x2="406.5" y2="285.5" stroke="#000" stroke-width="1"/>
<line x1="405.44" y1="279.5" x2="407.56" y2="279.5" stroke="#000" stroke-width="1"/>
<rect x="403" y="285.5" width="6.6" height="36.3" fill="#000"/>
<line x1="415.5" y1="285.5" x2="415.5" y2="289.3" stroke="#000" stroke-width="1"/>
<line x1="414.38" y1="285.5" x2="416.62" y2="285.5" stroke="#000" stroke-width="1"/>
<rect x="412.3" y="289.3" width="7" height="32.5" fill="#000"/>
<text x="405" y="268.25" font-size="7.9" text-anchor="middle" letter-spacing="-0.2">**</text>
<text x="406.8" y="277.63" font-size="7.9" text-anchor="middle">2.0</text>
<text x="418.3" y="274.45" font-size="7.9" text-anchor="middle" letter-spacing="-0.2">**</text>
<text x="419.8" y="283.93" font-size="7.9" text-anchor="middle">2.3</text>
<text x="400.22" y="352.3" font-size="7.6" transform="rotate(-90 400.22 352.3)">Vector</text>
<text x="408.62" y="352.3" font-size="7.6" transform="rotate(-90 408.62 352.3)">Ly6Ksh1</text>
<text x="418.32" y="352.3" font-size="7.6" transform="rotate(-90 418.32 352.3)">Ly6Ksh2</text>
<line x1="388.8" y1="356.5" x2="417.5" y2="356.1" stroke="#555" stroke-width="1.2"/>
<text x="403" y="365.66" font-size="7.7" text-anchor="middle">MDA-MB-231</text>
<text x="0.8" y="460.98" font-size="12.5" font-weight="bold">G</text>
<line x1="27.2" y1="474.6" x2="27.2" y2="609.6" stroke="#000" stroke-width="1.7"/>
<line x1="24.15" y1="608.5" x2="27.2" y2="608.5" stroke="#000" stroke-width="1"/>
<text x="23.2" y="611.54" font-size="8.2" text-anchor="end">0</text>
<line x1="24.15" y1="586.5" x2="27.2" y2="586.5" stroke="#000" stroke-width="1"/>
<text x="23.2" y="590.19" font-size="8.2" text-anchor="end">0.2</text>
<line x1="24.15" y1="564.5" x2="27.2" y2="564.5" stroke="#000" stroke-width="1"/>
<text x="23.2" y="567.84" font-size="8.2" text-anchor="end">0.4</text>
<line x1="24.15" y1="541.5" x2="27.2" y2="541.5" stroke="#000" stroke-width="1"/>
<text x="23.2" y="545.49" font-size="8.2" text-anchor="end">0.6</text>
<line x1="24.15" y1="519.5" x2="27.2" y2="519.5" stroke="#000" stroke-width="1"/>
<text x="23.2" y="523.14" font-size="8.2" text-anchor="end">0.8</text>
<line x1="24.15" y1="497.5" x2="27.2" y2="497.5" stroke="#000" stroke-width="1"/>
<text x="23.2" y="500.79" font-size="8.2" text-anchor="end">1</text>
<line x1="24.15" y1="474.5" x2="27.2" y2="474.5" stroke="#000" stroke-width="1"/>
<text x="23.2" y="478.44" font-size="8.2" text-anchor="end">1.2</text>
<line x1="26.4" y1="609.35" x2="124.8" y2="609.35" stroke="#000" stroke-width="1.5"/>
<line x1="27.5" y1="609" x2="27.5" y2="612.2" stroke="#000" stroke-width="1.1"/>
<line x1="43.5" y1="609" x2="43.5" y2="612.2" stroke="#000" stroke-width="1.1"/>
<line x1="59.5" y1="609" x2="59.5" y2="612.2" stroke="#000" stroke-width="1.1"/>
<line x1="75.5" y1="609" x2="75.5" y2="612.2" stroke="#000" stroke-width="1.1"/>
<line x1="91.5" y1="609" x2="91.5" y2="612.2" stroke="#000" stroke-width="1.1"/>
<line x1="108.5" y1="609" x2="108.5" y2="612.2" stroke="#000" stroke-width="1.1"/>
<line x1="124.5" y1="609" x2="124.5" y2="612.2" stroke="#000" stroke-width="1.1"/>
<line x1="35.5" y1="496.5" x2="35.5" y2="497.4" stroke="#000" stroke-width="1"/>
<line x1="33.72" y1="496.5" x2="37.28" y2="496.5" stroke="#000" stroke-width="1"/>
<rect x="29.9" y="497.4" width="11.1" height="112.6" fill="#000"/>
<line x1="51.5" y1="542.5" x2="51.5" y2="546.3" stroke="#000" stroke-width="1"/>
<line x1="49.74" y1="542.5" x2="53.26" y2="542.5" stroke="#000" stroke-width="1"/>
<rect x="46.2" y="546.3" width="11" height="63.7" fill="#000"/>
<line x1="68.5" y1="560.5" x2="68.5" y2="561.8" stroke="#000" stroke-width="1"/>
<line x1="66.72" y1="560.5" x2="70.28" y2="560.5" stroke="#000" stroke-width="1"/>
<rect x="62.6" y="561.8" width="11.1" height="48.2" fill="#000"/>
<text x="38.36" y="644.5" font-size="7.7" transform="rotate(-90 38.36 644.5)">Vector</text>
<text x="54.56" y="644.5" font-size="7.7" transform="rotate(-90 54.56 644.5)">Ly6Ksh1</text>
<text x="70.86" y="644.5" font-size="7.7" transform="rotate(-90 70.86 644.5)">Ly6Ksh2</text>
<text x="87.06" y="644.5" font-size="7.7" transform="rotate(-90 87.06 644.5)">Vector</text>
<text x="103.36" y="644.5" font-size="7.7" transform="rotate(-90 103.36 644.5)">Ly6Esh1</text>
<text x="118.86" y="644.5" font-size="7.7" transform="rotate(-90 118.86 644.5)">Ly6Esh2</text>
<text x="7.82" y="541.75" font-size="9" text-anchor="middle" transform="rotate(-90 7.82 541.75)">ZEB1/GAPDH RNA Levels</text>
<line x1="28.5" y1="649.5" x2="70.8" y2="649.5" stroke="#222" stroke-width="0.9"/>
<line x1="81.9" y1="649.5" x2="124.4" y2="649.5" stroke="#222" stroke-width="0.9"/>
<text x="48.3" y="660.22" font-size="9" text-anchor="middle">MDA-MB-231</text>
<text x="101.9" y="660.22" font-size="9" text-anchor="middle">T47D</text>
<text x="52" y="529.9" font-size="7.8" text-anchor="middle" letter-spacing="-0.2">***</text>
<text x="53" y="539.99" font-size="7.8" text-anchor="middle">1.7</text>
<text x="69.2" y="545.9" font-size="7.8" text-anchor="middle" letter-spacing="-0.2">***</text>
<text x="69" y="555.99" font-size="7.8" text-anchor="middle">2.3</text>
<line x1="86.4" y1="452.6" x2="86.4" y2="534.8" stroke="#000" stroke-width="1.5"/>
<line x1="84.05" y1="534.5" x2="86.4" y2="534.5" stroke="#000" stroke-width="1"/>
<text x="82.5" y="537.09" font-size="6.4" text-anchor="end">0</text>
<line x1="84.05" y1="513.5" x2="86.4" y2="513.5" stroke="#000" stroke-width="1"/>
<text x="82.5" y="516.79" font-size="6.4" text-anchor="end">0.0005</text>
<line x1="84.05" y1="493.5" x2="86.4" y2="493.5" stroke="#000" stroke-width="1"/>
<text x="82.5" y="496.49" font-size="6.4" text-anchor="end">0.001</text>
<line x1="84.05" y1="473.5" x2="86.4" y2="473.5" stroke="#000" stroke-width="1"/>
<text x="82.5" y="476.19" font-size="6.4" text-anchor="end">0.0015</text>
<line x1="84.05" y1="453.5" x2="86.4" y2="453.5" stroke="#000" stroke-width="1"/>
<text x="82.5" y="455.89" font-size="6.4" text-anchor="end">0.002</text>
<line x1="85.6" y1="534.55" x2="122" y2="534.55" stroke="#000" stroke-width="1.3"/>
<line x1="97.5" y1="534.2" x2="97.5" y2="536.2" stroke="#000" stroke-width="1.1"/>
<line x1="109.5" y1="534.2" x2="109.5" y2="536.2" stroke="#000" stroke-width="1.1"/>
<line x1="121.5" y1="534.2" x2="121.5" y2="536.2" stroke="#000" stroke-width="1.1"/>
<rect x="88.7" y="492.4" width="8" height="42.8" fill="#000"/>
<rect x="100.2" y="488.6" width="7.6" height="46.6" fill="#000"/>
<rect x="111" y="493.4" width="8" height="41.8" fill="#000"/>
<text x="96.02" y="566.6" font-size="7.6" transform="rotate(-90 96.02 566.6)">Vector</text>
<text x="105.62" y="566.6" font-size="7.6" transform="rotate(-90 105.62 566.6)">Ly6Esh1</text>
<text x="115.12" y="566.6" font-size="7.6" transform="rotate(-90 115.12 566.6)">Ly6Esh2</text>
<line x1="98.5" y1="565.2" x2="98.5" y2="569.8" stroke="#333" stroke-width="0.9"/>
<line x1="110.5" y1="567" x2="110.5" y2="569.8" stroke="#555" stroke-width="0.9"/>
<line x1="86" y1="569.5" x2="115.2" y2="569.5" stroke="#222" stroke-width="1.1"/>
<text x="104" y="580.26" font-size="9.1" text-anchor="middle">T47D</text>
<text x="132.5" y="460.98" font-size="12.5" font-weight="bold">H</text>
<line x1="159.3" y1="473.1" x2="159.3" y2="610.6" stroke="#000" stroke-width="1.7"/>
<line x1="156.25" y1="610.5" x2="159.3" y2="610.5" stroke="#000" stroke-width="1"/>
<text x="154.2" y="613.46" font-size="8" text-anchor="end">0</text>
<line x1="156.25" y1="587.5" x2="159.3" y2="587.5" stroke="#000" stroke-width="1"/>
<text x="155.6" y="590.71" font-size="8" text-anchor="end">0.2</text>
<line x1="156.25" y1="564.5" x2="159.3" y2="564.5" stroke="#000" stroke-width="1"/>
<text x="155.6" y="567.96" font-size="8" text-anchor="end">0.4</text>
<line x1="156.25" y1="541.5" x2="159.3" y2="541.5" stroke="#000" stroke-width="1"/>
<text x="155.6" y="545.21" font-size="8" text-anchor="end">0.6</text>
<line x1="156.25" y1="518.5" x2="159.3" y2="518.5" stroke="#000" stroke-width="1"/>
<text x="155.6" y="522.46" font-size="8" text-anchor="end">0.8</text>
<line x1="156.25" y1="496.5" x2="159.3" y2="496.5" stroke="#000" stroke-width="1"/>
<text x="155.6" y="499.71" font-size="8" text-anchor="end">1</text>
<line x1="156.25" y1="473.5" x2="159.3" y2="473.5" stroke="#000" stroke-width="1"/>
<text x="155.6" y="476.96" font-size="8" text-anchor="end">1.2</text>
<line x1="158.5" y1="610.35" x2="213" y2="610.35" stroke="#000" stroke-width="1.5"/>
<line x1="159.5" y1="610" x2="159.5" y2="613.2" stroke="#000" stroke-width="1.1"/>
<line x1="176.5" y1="610" x2="176.5" y2="613.2" stroke="#000" stroke-width="1.1"/>
<line x1="194.5" y1="610" x2="194.5" y2="613.2" stroke="#000" stroke-width="1.1"/>
<line x1="212.5" y1="610" x2="212.5" y2="613.2" stroke="#000" stroke-width="1.1"/>
<line x1="168.5" y1="497.5" x2="168.5" y2="514" stroke="#000" stroke-width="1"/>
<line x1="166.61" y1="497.5" x2="170.39" y2="497.5" stroke="#000" stroke-width="1"/>
<rect x="162.4" y="514" width="11.8" height="97" fill="#000"/>
<line x1="186.5" y1="585.5" x2="186.5" y2="592.5" stroke="#000" stroke-width="1"/>
<line x1="184.58" y1="585.5" x2="188.42" y2="585.5" stroke="#000" stroke-width="1"/>
<rect x="180" y="592.5" width="12" height="18.5" fill="#000"/>
<line x1="204.5" y1="602.5" x2="204.5" y2="602.7" stroke="#000" stroke-width="1"/>
<line x1="202.58" y1="602.5" x2="206.42" y2="602.5" stroke="#000" stroke-width="1"/>
<rect x="198" y="602.7" width="12" height="8.3" fill="#000"/>
<text x="185" y="573.2" font-size="7.4" text-anchor="middle" letter-spacing="-0.2">***</text>
<text x="185" y="582.65" font-size="7.4" text-anchor="middle">5.6</text>
<text x="204" y="585.7" font-size="7.4" text-anchor="middle" letter-spacing="-0.2">****</text>
<text x="204" y="594.95" font-size="7.4" text-anchor="middle">12.8</text>
<text x="165.49" y="644.6" font-size="7.8" transform="rotate(-90 165.49 644.6)">Vector</text>
<text x="183.99" y="644.6" font-size="7.8" transform="rotate(-90 183.99 644.6)">Ly6Esh1</text>
<text x="203.39" y="644.6" font-size="7.8" transform="rotate(-90 203.39 644.6)">Ly6Esh2</text>
<text x="137.25" y="541.3" font-size="8.8" text-anchor="middle" transform="rotate(-90 137.25 541.3)">Ly6E/GAPDH RNA</text>
<text x="221.8" y="460.98" font-size="12.5" font-weight="bold">I</text>
<line x1="251" y1="473.1" x2="251" y2="610.4" stroke="#000" stroke-width="1.7"/>
<line x1="247.95" y1="609.5" x2="251" y2="609.5" stroke="#000" stroke-width="1"/>
<text x="247.5" y="613.26" font-size="8" text-anchor="end">0</text>
<line x1="247.95" y1="590.5" x2="251" y2="590.5" stroke="#000" stroke-width="1"/>
<text x="247.5" y="593.82" font-size="8" text-anchor="end">0.2</text>
<line x1="247.95" y1="570.5" x2="251" y2="570.5" stroke="#000" stroke-width="1"/>
<text x="247.5" y="574.38" font-size="8" text-anchor="end">0.4</text>
<line x1="247.95" y1="551.5" x2="251" y2="551.5" stroke="#000" stroke-width="1"/>
<text x="247.5" y="554.94" font-size="8" text-anchor="end">0.6</text>
<line x1="247.95" y1="532.5" x2="251" y2="532.5" stroke="#000" stroke-width="1"/>
<text x="247.5" y="535.5" font-size="8" text-anchor="end">0.8</text>
<line x1="247.95" y1="512.5" x2="251" y2="512.5" stroke="#000" stroke-width="1"/>
<text x="247.5" y="516.06" font-size="8" text-anchor="end">1</text>
<line x1="247.95" y1="493.5" x2="251" y2="493.5" stroke="#000" stroke-width="1"/>
<text x="247.5" y="496.62" font-size="8" text-anchor="end">1.2</text>
<line x1="247.95" y1="473.5" x2="251" y2="473.5" stroke="#000" stroke-width="1"/>
<text x="247.5" y="477.18" font-size="8" text-anchor="end">1.4</text>
<line x1="250.2" y1="610.15" x2="301.1" y2="610.15" stroke="#000" stroke-width="1.5"/>
<line x1="250.5" y1="609.8" x2="250.5" y2="613" stroke="#000" stroke-width="1.1"/>
<line x1="267.5" y1="609.8" x2="267.5" y2="613" stroke="#000" stroke-width="1.1"/>
<line x1="284.5" y1="609.8" x2="284.5" y2="613" stroke="#000" stroke-width="1.1"/>
<line x1="300.5" y1="609.8" x2="300.5" y2="613" stroke="#000" stroke-width="1.1"/>
<line x1="259.5" y1="512.5" x2="259.5" y2="521.2" stroke="#000" stroke-width="1"/>
<line x1="257.66" y1="512.5" x2="261.34" y2="512.5" stroke="#000" stroke-width="1"/>
<rect x="253.4" y="521.2" width="11.5" height="89.6" fill="#000"/>
<line x1="275.5" y1="492.5" x2="275.5" y2="499.3" stroke="#000" stroke-width="1"/>
<line x1="273.61" y1="492.5" x2="277.39" y2="492.5" stroke="#000" stroke-width="1"/>
<rect x="270" y="499.3" width="11.8" height="111.5" fill="#000"/>
<line x1="292.5" y1="522.5" x2="292.5" y2="532" stroke="#000" stroke-width="1"/>
<line x1="290.63" y1="522.5" x2="294.37" y2="522.5" stroke="#000" stroke-width="1"/>
<rect x="286.3" y="532" width="11.7" height="78.8" fill="#000"/>
<text x="278.4" y="488.02" font-size="7.6" text-anchor="middle" font-style="italic">NS</text>
<text x="293" y="515.52" font-size="7.6" text-anchor="middle" font-style="italic">NS</text>
<text x="252.69" y="644.6" font-size="7.8" transform="rotate(-90 252.69 644.6)">Vector</text>
<text x="271.69" y="644.6" font-size="7.8" transform="rotate(-90 271.69 644.6)">Ly6Esh1</text>
<text x="290.09" y="644.6" font-size="7.8" transform="rotate(-90 290.09 644.6)">Ly6Esh2</text>
<text x="230.35" y="541.6" font-size="8.8" text-anchor="middle" transform="rotate(-90 230.35 541.6)">Ly6K/GAPDH RNA</text>
<text x="317.2" y="461.07" font-size="12.5" font-weight="bold">J</text>
<line x1="341" y1="477.6" x2="341" y2="610.8" stroke="#000" stroke-width="1.7"/>
<line x1="337.95" y1="610.5" x2="341" y2="610.5" stroke="#000" stroke-width="1"/>
<text x="337" y="613.59" font-size="7.8" text-anchor="end">0</text>
<line x1="337.95" y1="593.5" x2="341" y2="593.5" stroke="#000" stroke-width="1"/>
<text x="337" y="597.09" font-size="7.8" text-anchor="end">0.2</text>
<line x1="337.95" y1="577.5" x2="341" y2="577.5" stroke="#000" stroke-width="1"/>
<text x="337" y="580.59" font-size="7.8" text-anchor="end">0.4</text>
<line x1="337.95" y1="560.5" x2="341" y2="560.5" stroke="#000" stroke-width="1"/>
<text x="337" y="564.09" font-size="7.8" text-anchor="end">0.6</text>
<line x1="337.95" y1="544.5" x2="341" y2="544.5" stroke="#000" stroke-width="1"/>
<text x="337" y="547.59" font-size="7.8" text-anchor="end">0.8</text>
<line x1="337.95" y1="527.5" x2="341" y2="527.5" stroke="#000" stroke-width="1"/>
<text x="337" y="531.09" font-size="7.8" text-anchor="end">1</text>
<line x1="337.95" y1="511.5" x2="341" y2="511.5" stroke="#000" stroke-width="1"/>
<text x="337" y="514.59" font-size="7.8" text-anchor="end">1.2</text>
<line x1="337.95" y1="494.5" x2="341" y2="494.5" stroke="#000" stroke-width="1"/>
<text x="337" y="498.09" font-size="7.8" text-anchor="end">1.4</text>
<line x1="337.95" y1="478.5" x2="341" y2="478.5" stroke="#000" stroke-width="1"/>
<text x="337" y="481.59" font-size="7.8" text-anchor="end">1.6</text>
<line x1="340.2" y1="610.55" x2="386.9" y2="610.55" stroke="#000" stroke-width="1.5"/>
<line x1="340.5" y1="610.2" x2="340.5" y2="613.4" stroke="#000" stroke-width="1.1"/>
<line x1="355.5" y1="610.2" x2="355.5" y2="613.4" stroke="#000" stroke-width="1.1"/>
<line x1="371.5" y1="610.2" x2="371.5" y2="613.4" stroke="#000" stroke-width="1.1"/>
<line x1="386.5" y1="610.2" x2="386.5" y2="613.4" stroke="#000" stroke-width="1.1"/>
<line x1="348.5" y1="494.5" x2="348.5" y2="504.3" stroke="#000" stroke-width="1"/>
<line x1="347.2" y1="494.5" x2="349.8" y2="494.5" stroke="#000" stroke-width="1"/>
<rect x="343.2" y="504.3" width="10.9" height="106.9" fill="#000"/>
<line x1="363.5" y1="560.5" x2="363.5" y2="566.3" stroke="#000" stroke-width="1"/>
<line x1="361.69" y1="560.5" x2="365.31" y2="560.5" stroke="#000" stroke-width="1"/>
<rect x="358" y="566.3" width="11.3" height="44.9" fill="#000"/>
<rect x="373.3" y="587.5" width="11.1" height="23.7" fill="#000"/>
<text x="361.5" y="546.2" font-size="7.4" text-anchor="middle" letter-spacing="-0.2">**</text>
<text x="364" y="556.45" font-size="7.4" text-anchor="middle">2.4</text>
<text x="381" y="567.5" font-size="7.4" text-anchor="middle" letter-spacing="-0.2">***</text>
<text x="381" y="577.65" font-size="7.4" text-anchor="middle">4.5</text>
<text x="343.89" y="644.6" font-size="7.8" transform="rotate(-90 343.89 644.6)">Vector</text>
<text x="362.59" y="644.6" font-size="7.8" transform="rotate(-90 362.59 644.6)">Ly6Esh1</text>
<text x="381.39" y="644.6" font-size="7.8" transform="rotate(-90 381.39 644.6)">Ly6Esh2</text>
<text x="321.06" y="543.8" font-size="9.1" text-anchor="middle" transform="rotate(-90 321.06 543.8)">ZEB1/GAPDH RNA levels</text>
<text x="393.4" y="460.98" font-size="12.5" font-weight="bold">K</text>
<line x1="413.8" y1="476.9" x2="413.8" y2="610.9" stroke="#000" stroke-width="1.7"/>
<line x1="410.75" y1="610.5" x2="413.8" y2="610.5" stroke="#000" stroke-width="1"/>
<text x="408.6" y="613.76" font-size="8" text-anchor="end">0</text>
<line x1="410.75" y1="591.5" x2="413.8" y2="591.5" stroke="#000" stroke-width="1"/>
<text x="408.6" y="594.8" font-size="8" text-anchor="end">1</text>
<line x1="410.75" y1="572.5" x2="413.8" y2="572.5" stroke="#000" stroke-width="1"/>
<text x="408.6" y="575.84" font-size="8" text-anchor="end">2</text>
<line x1="410.75" y1="553.5" x2="413.8" y2="553.5" stroke="#000" stroke-width="1"/>
<text x="408.6" y="556.88" font-size="8" text-anchor="end">3</text>
<line x1="410.75" y1="534.5" x2="413.8" y2="534.5" stroke="#000" stroke-width="1"/>
<text x="408.6" y="537.92" font-size="8" text-anchor="end">4</text>
<line x1="410.75" y1="515.5" x2="413.8" y2="515.5" stroke="#000" stroke-width="1"/>
<text x="408.6" y="518.96" font-size="8" text-anchor="end">5</text>
<line x1="410.75" y1="496.5" x2="413.8" y2="496.5" stroke="#000" stroke-width="1"/>
<text x="408.6" y="500" font-size="8" text-anchor="end">6</text>
<line x1="410.75" y1="477.5" x2="413.8" y2="477.5" stroke="#000" stroke-width="1"/>
<text x="408.6" y="481.04" font-size="8" text-anchor="end">7</text>
<line x1="413" y1="610.65" x2="512.3" y2="610.65" stroke="#000" stroke-width="1.5"/>
<line x1="413.5" y1="610.3" x2="413.5" y2="612.9" stroke="#000" stroke-width="1.1"/>
<line x1="433.5" y1="610.3" x2="433.5" y2="612.9" stroke="#000" stroke-width="1.1"/>
<line x1="453.5" y1="610.3" x2="453.5" y2="612.9" stroke="#000" stroke-width="1.1"/>
<line x1="472.5" y1="610.3" x2="472.5" y2="612.9" stroke="#000" stroke-width="1.1"/>
<line x1="492.5" y1="610.3" x2="492.5" y2="612.9" stroke="#000" stroke-width="1.1"/>
<line x1="511.5" y1="610.3" x2="511.5" y2="612.9" stroke="#000" stroke-width="1.1"/>
<rect x="416.75" y="506.75" width="7.1" height="103.55" fill="#fff" stroke="#333" stroke-width="0.9"/>
<line x1="420.5" y1="488" x2="420.5" y2="524.3" stroke="#222" stroke-width="0.9"/>
<line x1="418.3" y1="488.5" x2="422.3" y2="488.5" stroke="#222" stroke-width="0.9"/>
<line x1="418.3" y1="524.5" x2="422.3" y2="524.5" stroke="#222" stroke-width="0.9"/>
<rect x="424.3" y="590.8" width="7.5" height="20.5" fill="#000"/>
<rect x="435.95" y="579.95" width="6.9" height="30.35" fill="#fff" stroke="#333" stroke-width="0.9"/>
<line x1="447.5" y1="560.5" x2="447.5" y2="562.5" stroke="#000" stroke-width="1"/>
<line x1="446.17" y1="560.5" x2="448.83" y2="560.5" stroke="#000" stroke-width="1"/>
<rect x="443.3" y="562.5" width="8.3" height="48.8" fill="#000"/>
<rect x="455.45" y="577.95" width="7.1" height="32.35" fill="#fff" stroke="#333" stroke-width="0.9"/>
<line x1="458.5" y1="572.5" x2="458.5" y2="582.5" stroke="#222" stroke-width="0.9"/>
<line x1="457" y1="572.5" x2="461" y2="572.5" stroke="#222" stroke-width="0.9"/>
<line x1="457" y1="582.5" x2="461" y2="582.5" stroke="#222" stroke-width="0.9"/>
<line x1="467.5" y1="525.5" x2="467.5" y2="541.3" stroke="#000" stroke-width="1"/>
<line x1="466.19" y1="525.5" x2="468.81" y2="525.5" stroke="#000" stroke-width="1"/>
<rect x="463" y="541.3" width="8.2" height="70" fill="#000"/>
<rect x="474.75" y="580.95" width="6.8" height="29.35" fill="#fff" stroke="#333" stroke-width="0.9"/>
<line x1="478.5" y1="577" x2="478.5" y2="583.8" stroke="#222" stroke-width="0.9"/>
<line x1="476.15" y1="576.5" x2="480.15" y2="576.5" stroke="#222" stroke-width="0.9"/>
<line x1="476.15" y1="583.5" x2="480.15" y2="583.5" stroke="#222" stroke-width="0.9"/>
<line x1="486.5" y1="504.5" x2="486.5" y2="524.5" stroke="#000" stroke-width="1"/>
<line x1="485.12" y1="504.5" x2="487.88" y2="504.5" stroke="#000" stroke-width="1"/>
<rect x="482" y="524.5" width="8.6" height="86.8" fill="#000"/>
<rect x="494.25" y="587.95" width="7.1" height="22.35" fill="#fff" stroke="#333" stroke-width="0.9"/>
<line x1="497.5" y1="585" x2="497.5" y2="590" stroke="#222" stroke-width="0.9"/>
<line x1="495.8" y1="584.5" x2="499.8" y2="584.5" stroke="#222" stroke-width="0.9"/>
<line x1="495.8" y1="590.5" x2="499.8" y2="590.5" stroke="#222" stroke-width="0.9"/>
<line x1="506.5" y1="530.5" x2="506.5" y2="538" stroke="#000" stroke-width="1"/>
<line x1="505.14" y1="530.5" x2="507.86" y2="530.5" stroke="#000" stroke-width="1"/>
<rect x="501.8" y="538" width="8.5" height="73.3" fill="#000"/>
<text x="439" y="576.2" font-size="7.4" text-anchor="middle" letter-spacing="-0.2">**</text>
<text x="447.8" y="561.2" font-size="7.4" text-anchor="middle" letter-spacing="-0.2">**</text>
<text x="458.4" y="573.2" font-size="7.4" text-anchor="middle" letter-spacing="-0.2">**</text>
<text x="466.6" y="525" font-size="7.4" text-anchor="middle" letter-spacing="-0.2">**</text>
<text x="477.8" y="578" font-size="7.4" text-anchor="middle" letter-spacing="-0.2">**</text>
<text x="486.5" y="504.5" font-size="7.4" text-anchor="middle" letter-spacing="-0.2">**</text>
<text x="496.5" y="582.5" font-size="7.4" text-anchor="middle" letter-spacing="-0.2">***</text>
<text x="505.4" y="531.2" font-size="7.4" text-anchor="middle" letter-spacing="-0.2">***</text>
<text x="441.93" y="596" font-size="6.8" text-anchor="middle" transform="rotate(-90 441.93 596)">3.3</text>
<text x="449.63" y="596" font-size="6.8" text-anchor="middle" transform="rotate(-90 449.63 596)" fill="#fff" style="stroke:none">2.5</text>
<text x="461.63" y="596" font-size="6.8" text-anchor="middle" transform="rotate(-90 461.63 596)">3.2</text>
<text x="469.23" y="596" font-size="6.8" text-anchor="middle" transform="rotate(-90 469.23 596)" fill="#fff" style="stroke:none">3.6</text>
<text x="480.63" y="596" font-size="6.8" text-anchor="middle" transform="rotate(-90 480.63 596)">3.4</text>
<text x="500.43" y="596" font-size="6.8" text-anchor="middle" transform="rotate(-90 500.43 596)">4.6</text>
<text x="507.63" y="596" font-size="6.8" text-anchor="middle" transform="rotate(-90 507.63 596)" fill="#fff" style="stroke:none">3.8</text>
<line x1="415.2" y1="615.5" x2="428.2" y2="615.5" stroke="#444" stroke-width="1.3"/>
<line x1="437" y1="615.5" x2="450.4" y2="615.5" stroke="#444" stroke-width="1.3"/>
<line x1="456.3" y1="615.5" x2="469.7" y2="615.5" stroke="#444" stroke-width="1.3"/>
<line x1="476.3" y1="615.5" x2="489.7" y2="615.5" stroke="#444" stroke-width="1.3"/>
<line x1="495" y1="615.5" x2="508.9" y2="615.5" stroke="#444" stroke-width="1.3"/>
<text x="427.79" y="648.5" font-size="7.8" transform="rotate(-90 427.79 648.5)">Vector</text>
<text x="446.99" y="648.5" font-size="7.8" transform="rotate(-90 446.99 648.5)">Ly6Ksh1</text>
<text x="465.79" y="648.5" font-size="7.8" transform="rotate(-90 465.79 648.5)">Ly6Ksh2</text>
<text x="484.99" y="648.5" font-size="7.8" transform="rotate(-90 484.99 648.5)">Ly6Esh1</text>
<text x="503.29" y="648.5" font-size="7.8" transform="rotate(-90 503.29 648.5)">Ly6Esh2</text>
<text x="398.82" y="545.3" font-size="9" text-anchor="middle" transform="rotate(-90 398.82 545.3)">Normalized RNA</text>
<rect x="440.2" y="458.4" width="8" height="8" fill="#fff" stroke="#222" stroke-width="1"/>
<text x="451.3" y="465.29" font-size="9.2">E-Cadherin</text>
<rect x="440" y="471.3" width="8.9" height="8.5" fill="#000"/>
<text x="451.3" y="479.49" font-size="9.2">N-Cadherin</text>
<line x1="165" y1="650.5" x2="517.5" y2="650.5" stroke="#222" stroke-width="1.1"/>
<text x="317.6" y="663.22" font-size="9" text-anchor="middle">MDA-MB-231</text>
</g>
</svg>
</body>
</html>
